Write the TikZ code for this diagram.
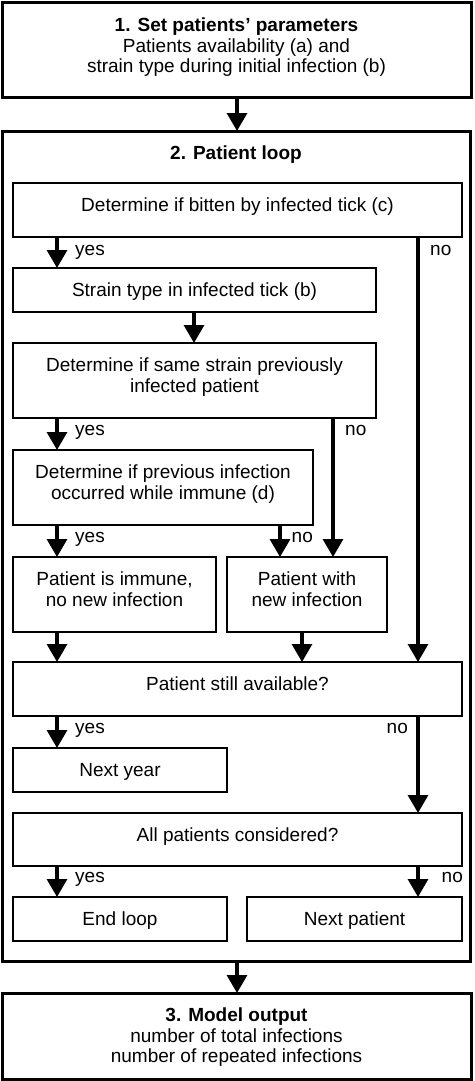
\documentclass[tikz,border=0pt]{standalone}
\usepackage{fontspec}
\setmainfont{Liberation Sans}
\usetikzlibrary{arrows.meta}
\newcommand{\bxt}[3]{\parbox[c][#2pt][t]{#1pt}{\centering\rule{0pt}{28.5pt}#3\par}}
\tikzset{
  box/.style={draw, line width=2.2pt, inner sep=0pt, outer sep=0pt, anchor=north west,
    font=\fontsize{19}{20.5}\selectfont},
  outerbox/.style={box, line width=3pt},
  arr/.style={line width=3.2pt, -{Triangle[width=20pt,length=18pt]}},
  lbl/.style={inner sep=0pt, anchor=base west, font=\fontsize{19}{20.5}\selectfont},
}
\begin{document}
\begin{tikzpicture}[x=1pt,y=-1pt]
\useasboundingbox (0,0) rectangle (474,1081);
% outer boxes
\node[outerbox] (b1) at (2,3) {\bxt{469}{94}{\textbf{1. Set patients’ parameters}\\Patients availability (a) and\\strain type during initial infection (b)}};
\node[outerbox] (loop) at (2,131) {\bxt{468}{830}{\textbf{2. Patient loop}}};
\node[outerbox] (b3) at (2,993) {\bxt{469}{86}{\textbf{3. Model output}\\number of total infections\\number of repeated infections}};
% inner boxes
\node[box] (bite) at (13,183) {\bxt{449}{54}{Determine if bitten by infected tick (c)}};
\node[box] (strain) at (13,268) {\bxt{363}{44}{Strain type in infected tick (b)}};
\node[box] (same) at (13,343) {\bxt{363}{75}{Determine if same strain previously\\infected patient}};
\node[box] (prev) at (13,450) {\bxt{300}{75}{Determine if previous infection\\occurred while immune (d)}};
\node[box] (immune) at (13,557) {\bxt{203}{75}{Patient is immune,\\no new infection}};
\node[box] (newinf) at (227,557) {\bxt{160}{75}{Patient with\\new infection}};
\node[box] (avail) at (13,662) {\bxt{449}{54}{Patient still available?}};
\node[box] (nexty) at (13,748) {\bxt{214}{44}{Next year}};
\node[box] (allp) at (13,813) {\bxt{449}{53}{All patients considered?}};
\node[box] (endl) at (13,897) {\bxt{214}{44}{End loop}};
\node[box] (nextp) at (247,897) {\bxt{215}{44}{Next patient}};
% columns
\coordinate (xa) at (57,0);
\coordinate (xb) at (194,0);
\coordinate (xc) at (280,0);
\coordinate (xd) at (302,0);
\coordinate (xe) at (333,0);
\coordinate (xf) at (418,0);
\coordinate (xm) at (237,0);
% arrows
\draw[arr] (b1.south -| xm) -- (loop.north -| xm);
\draw[arr] (bite.south -| xa) -- (strain.north -| xa);
\draw[arr] (bite.south -| xf) -- (avail.north -| xf);
\draw[arr] (strain.south -| xb) -- (same.north -| xb);
\draw[arr] (same.south -| xa) -- (prev.north -| xa);
\draw[arr] (same.south -| xe) -- (newinf.north -| xe);
\draw[arr] (prev.south -| xa) -- (immune.north -| xa);
\draw[arr] (prev.south -| xc) -- (newinf.north -| xc);
\draw[arr] (immune.south -| xa) -- (avail.north -| xa);
\draw[arr] (newinf.south -| xd) -- (avail.north -| xd);
\draw[arr] (avail.south -| xa) -- (nexty.north -| xa);
\draw[arr] (avail.south -| xf) -- (allp.north -| xf);
\draw[arr] (allp.south -| xa) -- (endl.north -| xa);
\draw[arr] (allp.south -| xf) -- (nextp.north -| xf);
\draw[arr] (loop.south -| xm) -- (b3.north -| xm);
% labels
\node[lbl] (y1) at (75,255) {yes};
\node[lbl] (n1) at (430,255) {no};
\node[lbl] (y2) at (75,435.5) {yes};
\node[lbl] (n2) at (345,435.5) {no};
\node[lbl] (y3) at (75,542) {yes};
\node[lbl] (n3) at (291.5,542) {no};
\node[lbl] (y4) at (75,733) {yes};
\node[lbl] (n4) at (386.5,733) {no};
\node[lbl] (y5) at (75,882) {yes};
\node[lbl] (n5) at (441.5,882) {no};
\end{tikzpicture}
\end{document}
